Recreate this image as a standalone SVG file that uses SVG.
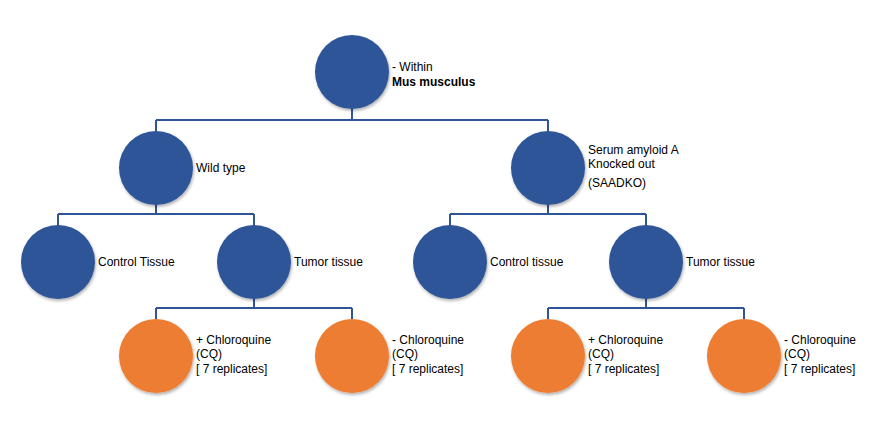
<svg xmlns="http://www.w3.org/2000/svg" width="887" height="441" viewBox="0 0 887 441">
<defs>
<filter id="sh" x="-20%" y="-20%" width="140%" height="150%"><feDropShadow dx="1" dy="2" stdDeviation="1.5" flood-color="#000" flood-opacity="0.3"/></filter>
<style>
.b{fill:#2F5597;filter:url(#sh)}
.o{fill:#ED7D31;filter:url(#sh)}
.l{fill:none;stroke:#2F5597;stroke-width:2}
text{font-family:"Liberation Sans",Arial,sans-serif;font-size:12px;fill:#000}
</style>
</defs>
<rect width="887" height="441" fill="#fff"/>
<g id="connectors">
<path class="l" d="M352 109V120M156 120H548M156 120V132M548 120V132"/>
<path class="l" d="M156 204V214M58 214H254M58 214V226M254 214V226"/>
<path class="l" d="M548 204V214M450 214H646M450 214V226M646 214V226"/>
<path class="l" d="M254 298V308M156 308H352M156 308V319M352 308V319"/>
<path class="l" d="M646 298V308M548 308H744M548 308V319M744 308V319"/>
</g>
<g id="root"><circle class="b" cx="352" cy="72" r="37"/><text x="392" y="71">- Within</text><text x="392" y="86" font-weight="bold">Mus musculus</text></g>
<g id="wt"><circle class="b" cx="156" cy="168" r="37"/><text x="196" y="172">Wild type</text></g>
<g id="saadko"><circle class="b" cx="548" cy="168" r="37"/><text x="588" y="154">Serum amyloid A</text><text x="588" y="168">Knocked out</text><text x="588" y="187">(SAADKO)</text></g>
<g id="ct1"><circle class="b" cx="58" cy="262" r="37"/><text x="98" y="266">Control Tissue</text></g>
<g id="tt1"><circle class="b" cx="254" cy="262" r="37"/><text x="294" y="266">Tumor tissue</text></g>
<g id="ct2"><circle class="b" cx="450" cy="262" r="37"/><text x="490" y="266">Control tissue</text></g>
<g id="tt2"><circle class="b" cx="646" cy="262" r="37"/><text x="686" y="266">Tumor tissue</text></g>
<g id="p1"><circle class="o" cx="156" cy="356" r="37"/><text x="196" y="344">+ Chloroquine</text><text x="196" y="358">(CQ)</text><text x="196" y="373">[ 7 replicates]</text></g>
<g id="m1"><circle class="o" cx="352" cy="356" r="37"/><text x="392" y="344">- Chloroquine</text><text x="392" y="358">(CQ)</text><text x="392" y="373">[ 7 replicates]</text></g>
<g id="p2"><circle class="o" cx="548" cy="356" r="37"/><text x="588" y="344">+ Chloroquine</text><text x="588" y="358">(CQ)</text><text x="588" y="373">[ 7 replicates]</text></g>
<g id="m2"><circle class="o" cx="744" cy="356" r="37"/><text x="784" y="344">- Chloroquine</text><text x="784" y="358">(CQ)</text><text x="784" y="373">[ 7 replicates]</text></g>
</svg>
